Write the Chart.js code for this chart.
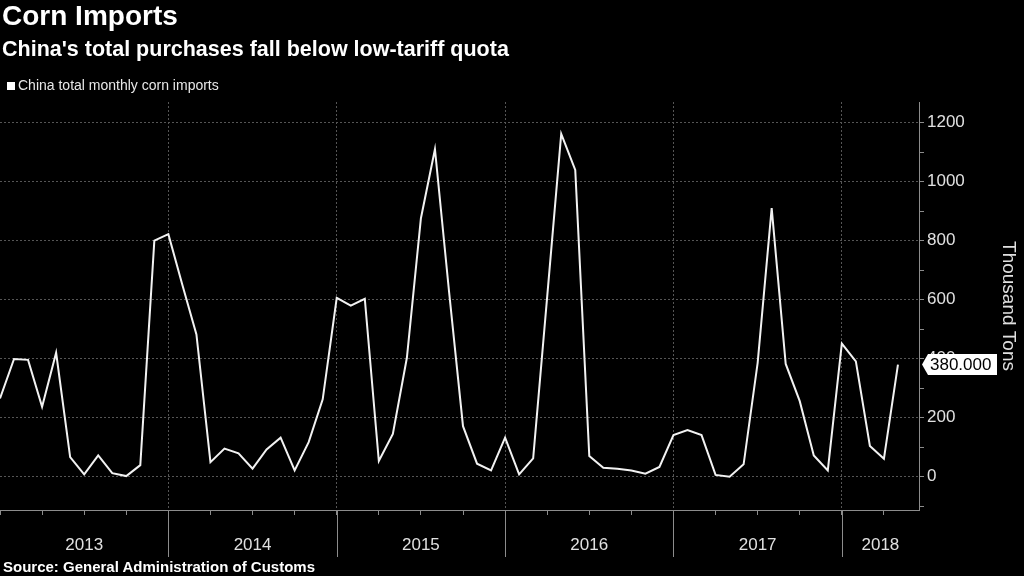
<!DOCTYPE html>
<html>
<head>
<meta charset="utf-8">
<script src="https://cdn.jsdelivr.net/npm/chart.js@4"></script>
<style>
  body { margin: 0; background: #000; }
  #wrap { position: relative; width: 1024px; height: 576px; background: #000; color: #fff;
          font-family: "Liberation Sans", Arial, sans-serif; overflow: hidden; }
  #title { position: absolute; left: 2px; top: 0px; font-size: 28px; font-weight: bold; }
  #subtitle { position: absolute; left: 2px; top: 37px; font-size: 21.5px; font-weight: bold; }
  #legend { position: absolute; left: 7px; top: 77px; font-size: 14px; color: #e8e8e8; }
  #legend span { display: inline-block; width: 8px; height: 8px; background: #fff; margin-right: 3px; }
  #source { position: absolute; left: 3px; top: 558px; font-size: 15px; font-weight: bold; }
  canvas { position: absolute; left: 0; top: 0; }
</style>
</head>
<body>
<div id="wrap">
  <canvas id="myChart" width="1024" height="576"></canvas>
  <div id="title">Corn Imports</div>
  <div id="subtitle">China's total purchases fall below low-tariff quota</div>
  <div id="legend"><span></span>China total monthly corn imports</div>
  <div id="source">Source: General Administration of Customs</div>
</div>
<script>
// Monthly imports, Jan 2013 – May 2018 (thousand tons)
const years = ["2013", "2014", "2015", "2016", "2017", "2018"];
const imports = [
  265, 399, 396, 237, 420, 66, 8, 72, 12, 2, 39, 800,
  822, 650, 482, 49, 95, 79, 27, 92, 132, 21, 117, 262,
  606, 580, 603, 53, 145, 403, 876, 1110, 630, 171, 44, 21,
  132, 8, 62, 610, 1162, 1040, 70, 30, 27, 21, 10, 33,
  141, 158, 141, 6, 0, 42, 386, 910, 382, 256, 72, 21,
  451, 391, 104, 61, 380
];
const seriesLabel = "China total monthly corn imports";

const gray = "#8c8c8c";
const gridGray = "#555555";

// year separators, year labels and the last-value tag
const axisExtras = {
  id: "axisExtras",
  afterDraw(chart) {
    const { ctx, chartArea, scales: { x, y } } = chart;
    ctx.save();
    ctx.strokeStyle = gray;
    ctx.lineWidth = 1;
    for (let i = 1; i < years.length; i++) {
      const px = Math.round(x.getPixelForValue(i * 12)) + 0.5;
      ctx.beginPath();
      ctx.moveTo(px, chartArea.bottom);
      ctx.lineTo(px, chartArea.bottom + 47);
      ctx.stroke();
    }
    ctx.fillStyle = "#e0e0e0";
    ctx.font = '17px "Liberation Sans", Arial, sans-serif';
    ctx.textAlign = "center";
    ctx.textBaseline = "middle";
    years.forEach((yr, i) => {
      const a = x.getPixelForValue(i * 12);
      const b = x.getPixelForValue(Math.min((i + 1) * 12, x.max));
      ctx.fillText(yr, (a + b) / 2, chartArea.bottom + 35);
    });

    const last = imports[imports.length - 1];
    const py = y.getPixelForValue(last);
    const x0 = chartArea.right + 3;
    ctx.fillStyle = "#fff";
    ctx.beginPath();
    ctx.moveTo(x0, py);
    ctx.lineTo(x0 + 6, py - 10.5);
    ctx.lineTo(x0 + 75, py - 10.5);
    ctx.lineTo(x0 + 75, py + 10.5);
    ctx.lineTo(x0 + 6, py + 10.5);
    ctx.closePath();
    ctx.fill();
    ctx.fillStyle = "#000";
    ctx.textAlign = "left";
    ctx.fillText(last.toFixed(3), x0 + 8, py + 1);
    ctx.restore();
  }
};

const ctx = document.getElementById("myChart").getContext("2d");
new Chart(ctx, {
  type: "line",
  data: {
    datasets: [{
      label: seriesLabel,
      data: imports.map((v, i) => ({ x: i, y: v })),
      borderColor: "#f2f2f2",
      borderWidth: 2,
      pointRadius: 0,
      tension: 0
    }]
  },
  options: {
    responsive: false,
    animation: false,
    devicePixelRatio: 1,
    layout: { padding: { top: 102, left: 0, right: 0, bottom: 0 } },
    plugins: { legend: { display: false }, tooltip: { enabled: false } },
    scales: {
      x: {
        type: "linear",
        min: 0,
        max: 65.5,
        afterFit: s => { s.height = 66; },
        ticks: { display: false, stepSize: 3, includeBounds: false, autoSkip: false },
        grid: {
          color: c => (c.tick && c.tick.value % 12 === 0 && c.tick.value > 0) ? gridGray : "transparent",
          tickColor: gray,
          tickLength: 5
        },
        border: { color: gray, dash: [2, 2] }
      },
      y: {
        position: "right",
        min: -113,
        max: 1270,
        afterFit: s => { s.width = 105; },
        ticks: {
          stepSize: 100,
          includeBounds: false,
          autoSkip: false,
          color: "#e0e0e0",
          font: { family: "Liberation Sans", size: 17 },
          padding: 3,
          callback: v => (v % 200 === 0 ? String(v) : "")
        },
        grid: {
          color: c => (c.tick && c.tick.value % 200 === 0) ? gridGray : "transparent",
          tickColor: gray,
          tickLength: 5
        },
        border: { color: gray, dash: [2, 2] },
        title: {
          display: true,
          text: "Thousand Tons",
          color: "#e0e0e0",
          font: { family: "Liberation Sans", size: 19 }
        }
      }
    }
  },
  plugins: [axisExtras]
});
</script>
</body>
</html>
